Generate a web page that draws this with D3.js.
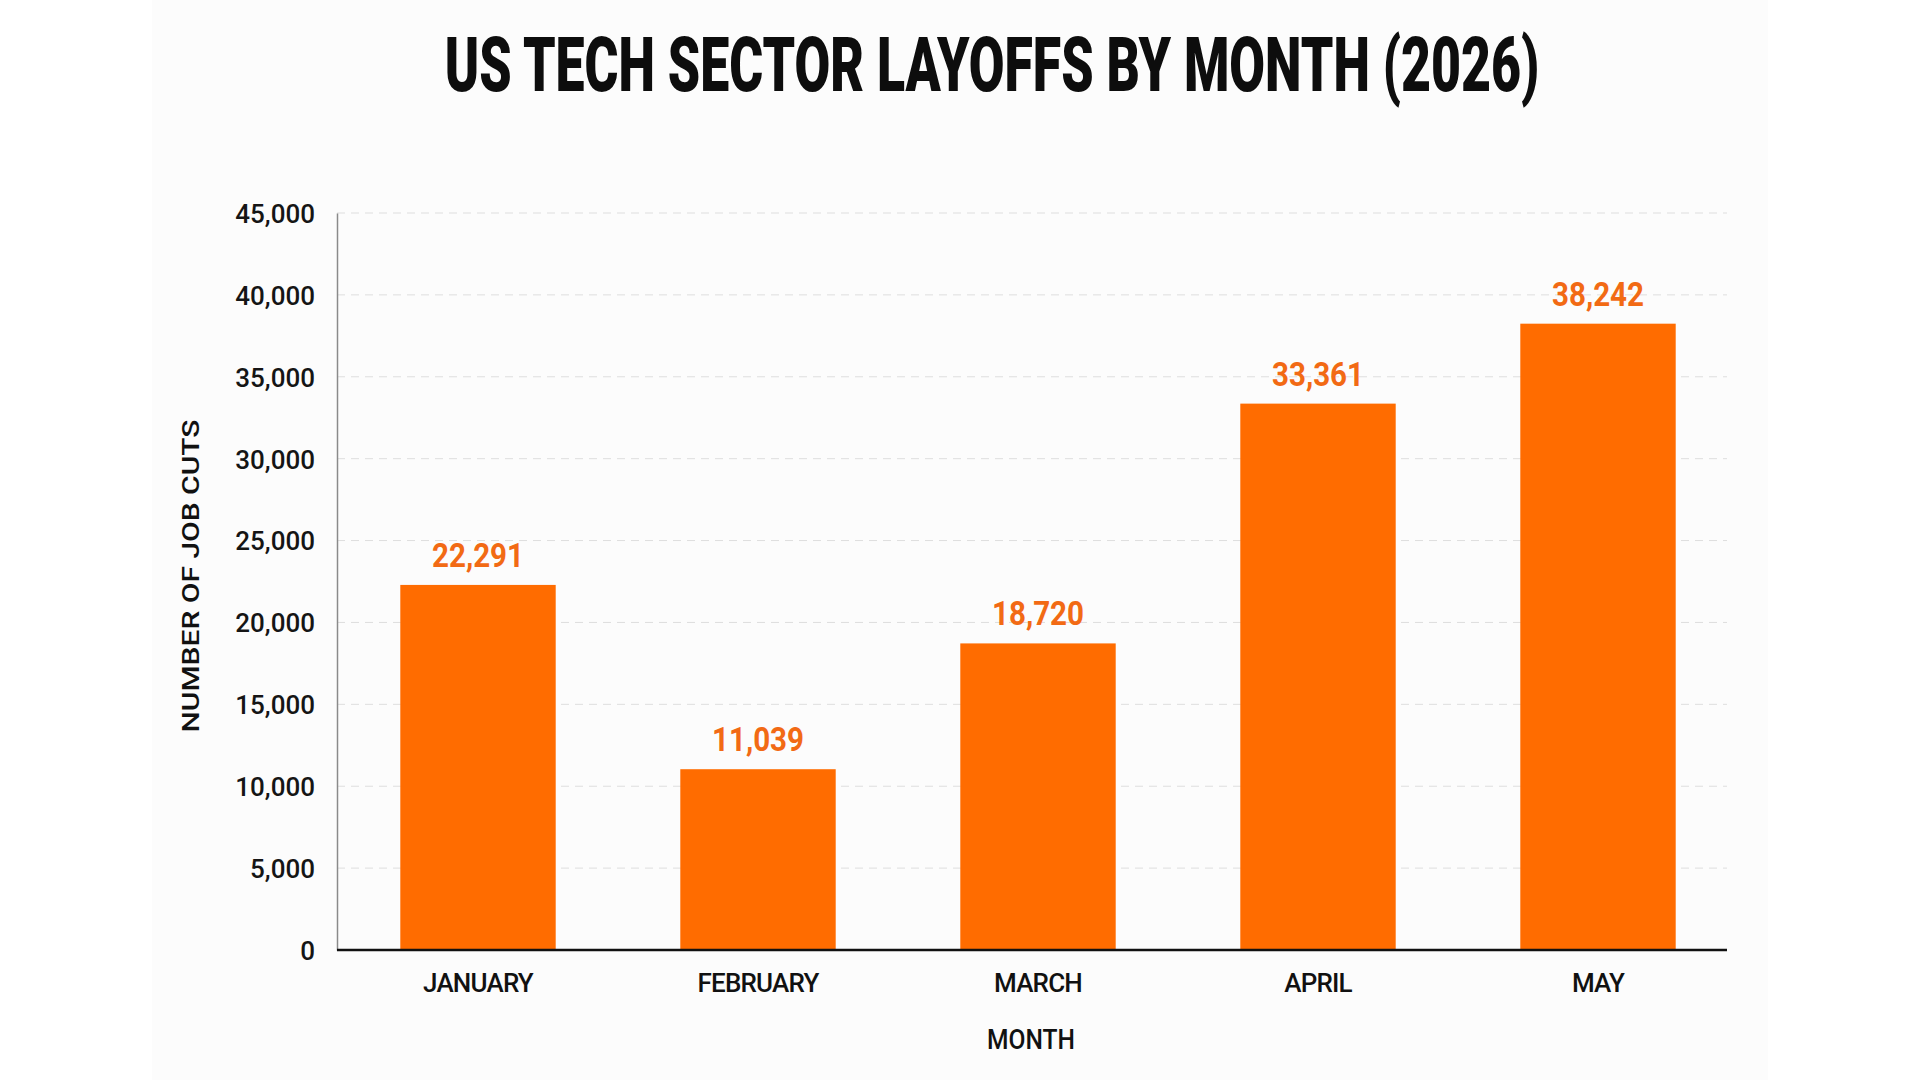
<!DOCTYPE html>
<html>
<head>
<meta charset="utf-8">
<script src="https://cdn.jsdelivr.net/npm/d3@7"></script>
<style>
  html, body { margin: 0; padding: 0; background: #ffffff; }
  svg text { font-family: "Roboto", "Liberation Sans", sans-serif; }
</style>
</head>
<body>
<div id="vis"></div>
<script>
const months = ["JANUARY", "FEBRUARY", "MARCH", "APRIL", "MAY"];
const jobCuts = [22291, 11039, 18720, 33361, 38242];
const yTicks = [0, 5000, 10000, 15000, 20000, 25000, 30000, 35000, 40000, 45000];

const width = 1920;
const height = 1080;

const svg = d3.select("#vis")
  .append("svg")
  .attr("width", width)
  .attr("height", height);

// faint panel behind chart
svg.append("rect")
  .attr("x", 152).attr("y", 0)
  .attr("width", 1616).attr("height", height)
  .attr("fill", "#fcfcfc");

const plotLeft = 337, plotRight = 1727, plotTop = 213, plotBottom = 950;

const x = d3.scaleBand()
  .domain(months)
  .range([338, 1738])
  .paddingInner(0.445)
  .paddingOuter(0.2225);

const y = d3.scaleLinear()
  .domain([0, 45000])
  .range([plotBottom, plotTop]);

// grid
svg.append("g")
  .selectAll("line")
  .data(yTicks.slice(1))
  .enter()
  .append("line")
  .attr("x1", plotLeft)
  .attr("x2", plotRight)
  .attr("y1", d => y(d))
  .attr("y2", d => y(d))
  .attr("stroke", "#dedede")
  .attr("stroke-width", 1)
  .attr("stroke-dasharray", "8,6");

// y axis
const yAxis = svg.append("g")
  .attr("transform", "translate(" + plotLeft + ",0)")
  .call(d3.axisLeft(y).tickValues(yTicks).tickSize(0).tickPadding(22)
    .tickFormat(d3.format(",")));
yAxis.select(".domain").attr("stroke", "#8a8a8a").attr("stroke-width", 1.5);
yAxis.selectAll("text")
  .attr("font-size", "26px")
  .attr("font-weight", "500")
  .attr("fill", "#151515")
  .attr("dy", "0.36em");

// bars
svg.append("g")
  .selectAll("rect")
  .data(jobCuts)
  .enter()
  .append("rect")
  .attr("x", (d, i) => x(months[i]))
  .attr("y", d => y(d))
  .attr("width", x.bandwidth())
  .attr("height", d => plotBottom - y(d))
  .attr("fill", "#ff6c00");

// value labels
svg.append("g")
  .selectAll("text")
  .data(jobCuts)
  .enter()
  .append("text")
  .attr("x", (d, i) => x(months[i]) + x.bandwidth() / 2)
  .attr("y", d => y(d) - 18)
  .attr("text-anchor", "middle")
  .attr("font-size", "34px")
  .attr("font-weight", "bold")
  .attr("fill", "#f26a14")
  .attr("textLength", 92)
  .attr("lengthAdjust", "spacingAndGlyphs")
  .text(d => d3.format(",")(d));

// x axis
const xAxis = svg.append("g")
  .attr("transform", "translate(0," + plotBottom + ")")
  .call(d3.axisBottom(x).tickSize(0).tickPadding(0));
xAxis.select(".domain").remove();
svg.append("line")
  .attr("x1", plotLeft).attr("x2", plotRight)
  .attr("y1", plotBottom).attr("y2", plotBottom)
  .attr("stroke", "#111")
  .attr("stroke-width", 2.5);
xAxis.selectAll("text")
  .attr("font-size", "26px")
  .attr("font-weight", "500")
  .attr("fill", "#111")
  .attr("dy", null)
  .attr("y", 42)
  .attr("letter-spacing", "-0.8px");

// axis titles
svg.append("text")
  .attr("x", 1031)
  .attr("y", 1049)
  .attr("text-anchor", "middle")
  .attr("font-size", "28px")
  .attr("font-weight", "500")
  .attr("fill", "#111")
  .attr("textLength", 88)
  .attr("lengthAdjust", "spacingAndGlyphs")
  .text("MONTH");

svg.append("text")
  .attr("transform", "translate(199,576) rotate(-90)")
  .attr("text-anchor", "middle")
  .attr("font-size", "24px")
  .attr("font-weight", "500")
  .attr("fill", "#111")
  .attr("textLength", 313)
  .attr("lengthAdjust", "spacingAndGlyphs")
  .text("NUMBER OF JOB CUTS");

// title - squeezed horizontally to look condensed
const title = svg.append("text")
  .attr("text-anchor", "middle")
  .attr("font-size", "76px")
  .attr("font-weight", "900")
  .attr("fill", "#0d0d0d")
  .text("US TECH SECTOR LAYOFFS BY MONTH (2026)");
const tw = title.node().getComputedTextLength();
title.attr("transform", "translate(992,91) scale(" + (1095 / tw) + ",1)");
</script>
</body>
</html>
